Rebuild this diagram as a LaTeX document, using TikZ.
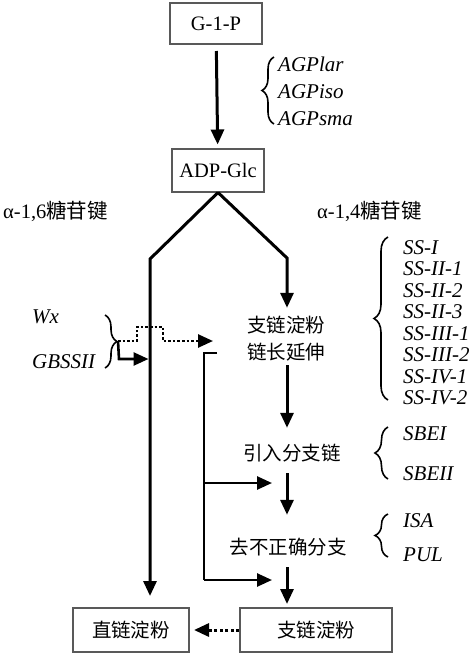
\documentclass[tikz,border=0pt]{standalone}
\usepackage{fontspec}
\setmainfont{Liberation Serif}
\newfontfamily\cjk{Noto Sans CJK SC}
\usetikzlibrary{arrows.meta,decorations.pathreplacing}
\begin{document}
\begin{tikzpicture}[x=1pt,y=-1pt,
  lat/.style={font=\fontsize{20.5}{24}\selectfont, inner sep=0pt},
  ita/.style={font=\fontsize{21}{24}\selectfont\itshape, inner sep=0pt, anchor=base west},
  cjkt/.style={font=\fontsize{19.5}{24}\selectfont\cjk, inner sep=0pt, text height=17.4pt, text depth=2.6pt},
  box/.style={draw=black!65, line width=2pt, inner sep=0pt},
  arr/.style={line width=3pt, -{Triangle[width=13pt,length=15pt]}},
  dotarr/.style={line width=2.6pt, dash pattern=on 2.6pt off 2pt, -{Triangle[width=13pt,length=15pt]}},
  brc/.style={line width=1.6pt, decorate, decoration={brace, amplitude=#1}},
]
\useasboundingbox[fill=white] (0,0) rectangle (474,654);

% boxes
\node[box, lat, minimum width=92pt, minimum height=41pt] (g1p) at (216,23.5) {G-1-P};
\node[box, lat, minimum width=92pt, minimum height=43pt] (adp) at (218,170) {ADP-Glc};
\node[box, cjkt, minimum width=116pt, minimum height=44pt] (zhi) at (131,630) {直链淀粉};
\node[box, cjkt, minimum width=152pt, minimum height=44pt] (zhipt) at (316,630) {支链淀粉};

% process texts
\node[cjkt] (ext1) at (286,325) {支链淀粉};
\node[cjkt] (ext2) at (286,352) {链长延伸};
\node[cjkt] (br) at (292,453) {引入分支链};
\node[cjkt] (inc) at (288,547) {去不正确分支};

% bond labels
\node[lat, anchor=base west] (a16) at (3,218) {α-1,6{\cjk 糖苷键}};
\node[lat, anchor=base west] (a14) at (317,218) {α-1,4{\cjk 糖苷键}};

% gene labels
\node[ita] (agp1) at (278,71) {AGPlar};
\node[ita] (agp2) at (278,98) {AGPiso};
\node[ita] (agp3) at (278,125) {AGPsma};
\foreach \t/\b [count=\i] in {SS-I/254,SS-II-1/275.5,SS-II-2/297,SS-II-3/318.5,SS-III-1/340,SS-III-2/361.5,SS-IV-1/383,SS-IV-2/404.5}
  \node[ita] (ss\i) at (403,\b) {\t};
\node[ita] (sbe1) at (403,440) {SBEI};
\node[ita] (sbe2) at (403,480) {SBEII};
\node[ita] (isa) at (403,527) {ISA};
\node[ita] (pul) at (403,561) {PUL};
\node[ita] (wx) at (32,323) {Wx};
\node[ita] (gbss) at (32,368) {GBSSII};

% braces
\draw[brc=12pt] (274,124) -- (274,57);
\draw[brc=14pt] (388,400) -- (388,237);
\draw[brc=13pt] (388,479) -- (388,427);
\draw[brc=13pt] (388,557) -- (388,514);
\draw[brc=12pt] (105,315) -- (105,368);

% coordinates
\coordinate (lb) at (150,259);
\coordinate (rb) at (287,258);
\coordinate (col) at (287,0);
\coordinate (wxtip) at (118,341);
\coordinate (d1) at (137,341);
\coordinate (d2) at (137,327);
\coordinate (d3) at (163,327);
\coordinate (d4) at (163,341);
\coordinate (dt) at (213,341);
\coordinate (s1) at (119,359);
\coordinate (bt) at (217,353);
\coordinate (bl) at (204,353);
\coordinate (j1) at (204,483);
\coordinate (j2) at (204,580);
\coordinate (t1) at (272,483);
\coordinate (t2) at (272,580);

% main flow
\draw[arr, shorten <=6pt, shorten >=3pt] (g1p) -- (adp);
\draw[arr, shorten >=11pt, line join=miter] (adp.south) -- (lb) -- (lb |- zhi.north);
\draw[arr, shorten >=7pt, line join=miter] (adp.south) -- (rb) -- (rb |- ext1.north);
\draw[arr, shorten <=3pt, shorten >=15pt] (col |- ext2.south) -- (col |- br.north);
\draw[arr, shorten <=10pt, shorten >=22pt] (col |- br.south) -- (col |- inc.north);
\draw[arr, shorten <=10pt, shorten >=3pt] (col |- inc.south) -- (col |- zhipt.north);

% Wx / GBSSII
\draw[dotarr] (wxtip) -- (d1) -- (d2) -- (d3) -- (d4) -- (dt);
\draw[line width=2.6pt, -{Triangle[width=13pt,length=15pt]}, shorten >=1.5pt] (wxtip) -- (s1) -- (lb |- s1);

% branching bracket
\draw[line width=2.6pt] (bt) -- (bl) -- (j2);
\draw[line width=2.6pt, -{Triangle[width=13pt,length=15pt]}] (j1) -- (t1);
\draw[line width=2.6pt, -{Triangle[width=13pt,length=15pt]}] (j2) -- (t2);

% bottom dotted arrow
\draw[dotarr, line width=3pt, dash pattern=on 3pt off 2.5pt, shorten >=4pt] (zhipt.west) -- (zhi.east);
\end{tikzpicture}
\end{document}
